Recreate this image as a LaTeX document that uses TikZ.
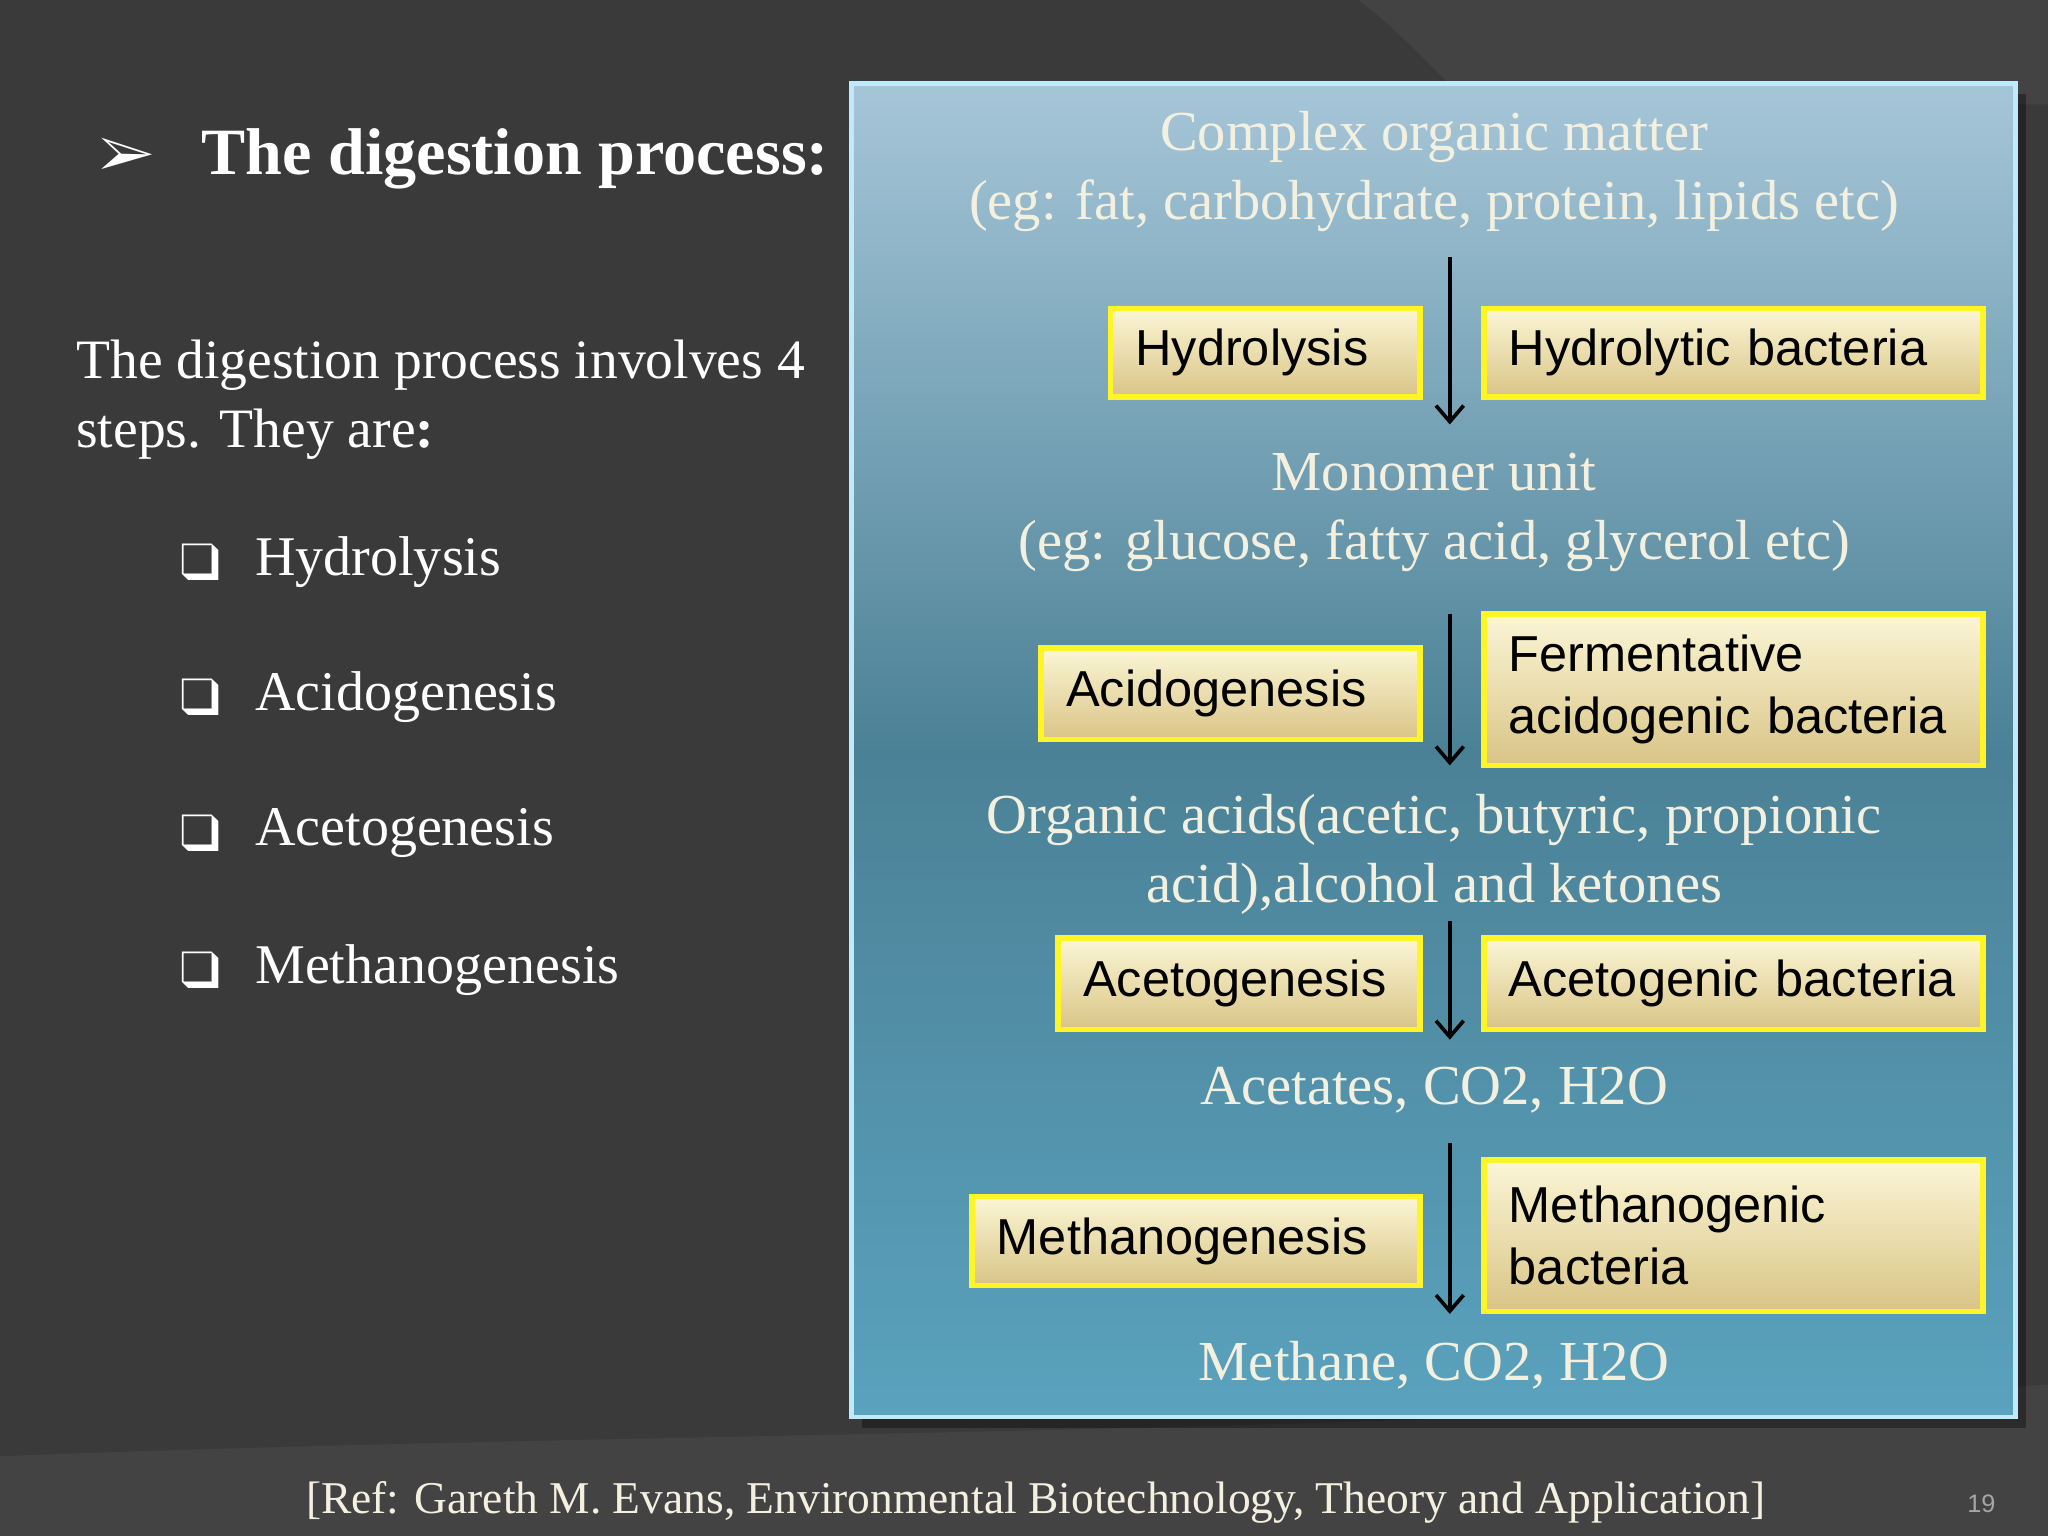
\documentclass[tikz,border=0pt]{standalone}
\usepackage{fontspec}
\usepackage{pifont}
\setmainfont{Liberation Serif}
\newfontfamily\sansf{Liberation Sans}
\usetikzlibrary{arrows.meta}
\definecolor{bgdark}{HTML}{3A3A3A}
\definecolor{bglight}{HTML}{434343}
\definecolor{txtc}{HTML}{F4F0E0}
\definecolor{ptop}{HTML}{A6C6D8}
\definecolor{pmid}{HTML}{4B8196}
\definecolor{pbot}{HTML}{5AA2BE}
\definecolor{ytop}{HTML}{FBF6D6}
\definecolor{ybot}{HTML}{D9C486}
\begin{document}
\begin{tikzpicture}[x=0.01cm,y=-0.01cm,
  box/.style={draw=yellow!85!white,line width=1.2pt,top color=ytop,bottom color=ybot,
    text=black,font=\sansf\fontsize{11}{13.5}\selectfont,align=left,inner xsep=0.17cm,inner ysep=0pt,anchor=north west},
  bw/.style={minimum width=#1cm,text width=#1cm-0.34cm-1.2pt},
  flow/.style={text=txtc,font=\fontsize{12.3}{15}\selectfont,align=center},
  arr/.style={-{Straight Barb[length=3.5pt,width=6pt]},line width=0.8pt,black}]
\useasboundingbox (0,0) rectangle (1568,1176);
\fill[bgdark] (0,0) rectangle (1568,1176);
\fill[bglight] (1040,0) .. controls (1080,30) and (1100,60) .. (1130,80) -- (1568,80) -- (1568,0) -- cycle;
\fill[bglight] (0,1115) .. controls (500,1095) and (1100,1100) .. (1568,1060) -- (1568,1176) -- (0,1176) -- cycle;
\fill[black,opacity=0.35] (660,72) rectangle (1551,1093);
\shade[top color=ptop,bottom color=pbot,middle color=pmid]
  (652,64) rectangle (1543,1085);
\draw[cyan!25!white,line width=1pt] (652,64) rectangle (1543,1085);
% left text
\node[text=white,anchor=west,font=\fontsize{13}{15}\selectfont] (bul) at (64,120) {\ding{226}};
\node[text=white,anchor=west,font=\bfseries\fontsize{14.4}{17}\selectfont] (title) at (142,122) {The digestion process:};
\node[text=white,anchor=north west,align=left,font=\fontsize{12.1}{15}\selectfont] (intro) at (46,248) {The digestion process involves 4\\steps. They are\textbf{:}};
\foreach \y/\t/\n in {430/Hydrolysis/l1,534/Acidogenesis/l2,638/Acetogenesis/l3,743/Methanogenesis/l4}{
  \node[text=white,anchor=west,font=\fontsize{11.5}{13}\selectfont] (\n b) at (126,\y) {\ding{113}};
  \node[text=white,anchor=west,font=\fontsize{12.2}{15}\selectfont] (\n) at (183,\y) {\t};
}
% flow
\node[flow] (t1) at (1098,131) {Complex organic matter\\(eg: fat, carbohydrate, protein, lipids etc)};
\node[flow] (t2) at (1098,392) {Monomer unit\\(eg: glucose, fatty acid, glycerol etc)};
\node[flow] (t3) at (1098,654) {Organic acids(acetic, butyric, propionic\\acid),alcohol and ketones};
\node[flow] (t4) at (1098,835) {Acetates, CO2, H2O};
\node[flow] (t5) at (1098,1045) {Methane, CO2, H2O};
\coordinate (a1s) at (1110,197); \coordinate (a1e) at (1110,325);
\coordinate (a2s) at (1110,470); \coordinate (a2e) at (1110,586);
\coordinate (a3s) at (1110,705); \coordinate (a3e) at (1110,796);
\coordinate (a4s) at (1110,875); \coordinate (a4e) at (1110,1006);
\draw[arr] (a1s) -- (a1e); \draw[arr] (a2s) -- (a2e);
\draw[arr] (a3s) -- (a3e); \draw[arr] (a4s) -- (a4e);
\node[box,bw=2.37,minimum height=0.68cm] (b1) at (848,234) {Hydrolysis};
\node[box,bw=3.82,minimum height=0.68cm] (b2) at (1134,234) {Hydrolytic bacteria};
\node[box,bw=2.90,minimum height=0.70cm] (b3) at (795,494) {Acidogenesis};
\node[box,bw=3.82,minimum height=1.16cm] (b4) at (1134,468) {Fermentative\\acidogenic bacteria};
\node[box,bw=2.77,minimum height=0.70cm] (b5) at (808,716) {Acetogenesis};
\node[box,bw=3.82,minimum height=0.70cm] (b6) at (1134,716) {Acetogenic bacteria};
\node[box,bw=3.43,minimum height=0.68cm] (b7) at (742,914) {Methanogenesis};
\node[box,bw=3.82,minimum height=1.16cm] (b8) at (1134,886) {Methanogenic\\bacteria};
% footer
\node[text=txtc,font=\fontsize{9.9}{11}\selectfont] (ref) at (793,1150) {[Ref: Gareth M. Evans, Environmental Biotechnology, Theory and Application]};
\node[text=gray!70,font=\sansf\fontsize{5.5}{7}\selectfont] (pg) at (1517,1151) {19};
\end{tikzpicture}
\end{document}
